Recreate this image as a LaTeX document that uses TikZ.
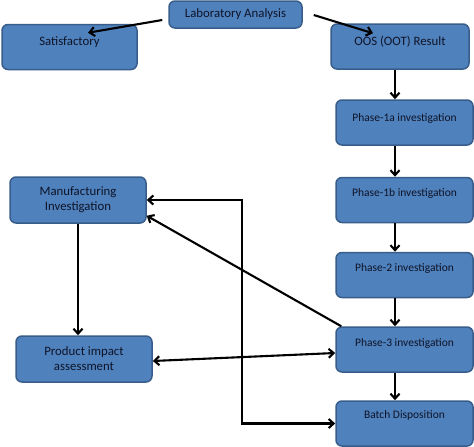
\documentclass[tikz,border=0pt]{standalone}
\usepackage{fontspec}
\setmainfont{Carlito}
\definecolor{boxblue}{RGB}{79,129,189}
\definecolor{boxedge}{RGB}{56,93,138}
\definecolor{textnavy}{RGB}{15,20,40}
\usetikzlibrary{arrows.meta,positioning,calc}

\tikzset{
  >={Straight Barb[length=5pt,width=9pt]},
  basebox/.style={rectangle, rounded corners=6pt, draw=boxedge, fill=boxblue, line width=1.5pt, inner sep=0pt, text=textnavy},
  topbox/.style={basebox, font=\fontsize{12.8}{14}\selectfont, text height=21pt, text depth=24pt},
  stepbox/.style={basebox, minimum width=137pt, font=\fontsize{11.5}{13}\selectfont, text height=19pt, text depth=26pt},
  twobox/.style={basebox, align=center, minimum width=136pt, minimum height=46pt, font=\fontsize{12.8}{15}\selectfont},
  flow/.style={draw=black, line width=2.1pt, ->},
}

\begin{document}
\begin{tikzpicture}[x=1pt,y=1pt]
\useasboundingbox (0,0) rectangle (474,-447);
% boxes
\node[basebox, minimum width=133pt, minimum height=27pt, font=\fontsize{12.8}{14}\selectfont] (lab) at (235.5,-14.5) {Laboratory Analysis};
\node[topbox, minimum width=135pt] (satis) at (69.5,-47) {Satisfactory};
\node[topbox, minimum width=138pt] (oos) at (400,-46.5) {OOS (OOT) Result};
\node[stepbox, text height=21pt, text depth=24pt] (p1a) at (404.5,-122.5) {Phase-1a investigation};
\node[stepbox] (p1b) at (404.5,-200) {Phase-1b investigation};
\node[stepbox] (p2) at (404.5,-275) {Phase-2 investigation};
\node[stepbox] (p3) at (404.5,-349.5) {Phase-3 investigation};
\node[stepbox, text height=17pt, text depth=28pt] (batch) at (404.5,-423.5) {Batch Disposition};
\node[twobox] (manuf) at (78,-200) {Manufacturing\\Investigation};
\node[twobox] (prod) at (84,-359) {Product impact\\assessment};

% connectors
\draw[flow] ($(lab.west)+(-6,-5.5)$) -- ($(satis.north)+(18.5,-9)$);
\draw[flow] ($(lab.east)+(11,-0.5)$) -- ($(oos.north)+(-27,-10)$);
\draw[flow] ([xshift=-5pt]oos.south) -- ([xshift=-9.5pt]p1a.north);
\foreach \a/\b in {p1a/p1b,p1b/p2,p2/p3,p3/batch}
  \draw[flow] ([xshift=-9.5pt]\a.south) -- ([xshift=-9.5pt]\b.north);
\draw[flow] (manuf.south) -- (manuf.south |- prod.north);
\draw[flow, <->] ([yshift=-2pt]prod.east) -- ([yshift=-3.5pt]p3.west);
\draw[flow, <->] (manuf.east) -- ++(95,0) |- (batch.west);
\draw[flow] ([xshift=6pt]p3.north west) -- ([yshift=8pt]manuf.south east);
\end{tikzpicture}
\end{document}
